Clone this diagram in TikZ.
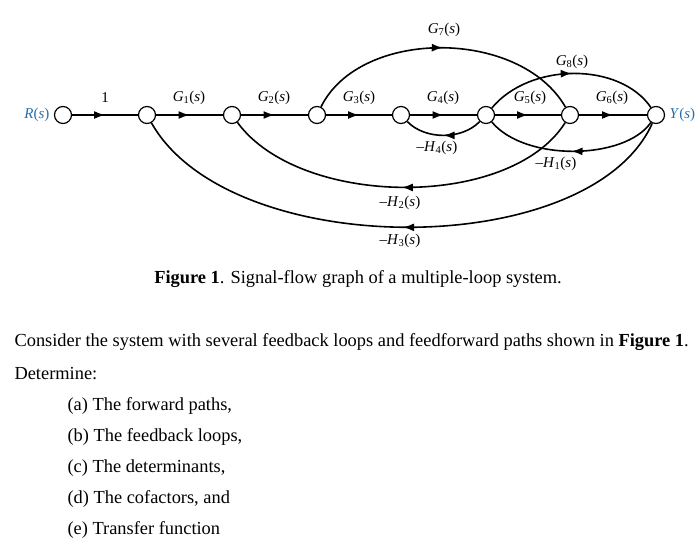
\documentclass[tikz,border=0pt]{standalone}
\usepackage{fontspec}
\setmainfont{Liberation Serif}
\usetikzlibrary{decorations.markings,arrows.meta,positioning}
\definecolor{sigblue}{RGB}{40,110,170}
\newcommand{\tf}[2]{\textit{#1}\textsubscript{#2}(\textit{s})}
\begin{document}
\begin{tikzpicture}[x=1pt,y=-1pt,
    nd/.style={circle,draw,line width=1.2pt,fill=white,minimum size=17pt,inner sep=0pt},
    br/.style={line width=1.6pt,postaction={decorate},
      decoration={markings,mark=at position 0.5 with {\arrow{Latex[length=11pt,width=8pt]}}}},
    lb/.style={font=\fontsize{15}{17}\selectfont},
    txt/.style={font=\fontsize{18.4}{21}\selectfont,anchor=west}
  ]
  \useasboundingbox (0,0) rectangle (700,553);
  % nodes
  \node[nd] (R) at (63,115) {};
  \node[nd] (n1) at (147,115) {};
  \node[nd] (n2) at (232,115) {};
  \node[nd] (n3) at (317,115) {};
  \node[nd] (n4) at (401,115) {};
  \node[nd] (n5) at (486,115) {};
  \node[nd] (n6) at (570,115) {};
  \node[nd] (Y) at (656,115) {};
  % branches
  \draw[br] (R) -- (n1);
  \draw[br] (n1) -- (n2);
  \draw[br] (n2) -- (n3);
  \draw[br] (n3) -- (n4);
  \draw[br] (n4) -- (n5);
  \draw[br] (n5) -- (n6);
  \draw[br] (n6) -- (Y);
  \draw[br] (n3) .. controls (360,28) and (520,28) .. (n6);
  \draw[br] (n5) .. controls (530,62) and (620,62) .. (Y);
  \draw[br] (n5) .. controls (462,140) and (425,140) .. (n4);
  \draw[br] (Y) .. controls (625,160) and (525,162) .. (n5);
  \draw[br] (n6) .. controls (510,210) and (300,208) .. (n2);
  \draw[br] (Y) .. controls (590,262) and (230,262) .. (n1);
  % labels
  \node[lb,text=sigblue,left=1pt of R] (lR) {\textit{R}(\textit{s})};
  \node[lb,text=sigblue,right=1pt of Y] (lY) {\textit{Y}(\textit{s})};
  \node[lb] (l1) at (105,98) {1};
  \node[lb] (g1) at (189,98) {\tf{G}{1}};
  \node[lb] (g2) at (274,98) {\tf{G}{2}};
  \node[lb] (g3) at (359,98) {\tf{G}{3}};
  \node[lb] (g4) at (443,98) {\tf{G}{4}};
  \node[lb] (g5) at (530,98) {\tf{G}{5}};
  \node[lb] (g6) at (612,98) {\tf{G}{6}};
  \node[lb] (g7) at (444,30) {\tf{G}{7}};
  \node[lb] (g8) at (572,62) {\tf{G}{8}};
  \node[lb] (h4) at (437,148) {\textendash\tf{H}{4}};
  \node[lb] (h1) at (556,164) {\textendash\tf{H}{1}};
  \node[lb] (h2) at (400,203) {\textendash\tf{H}{2}};
  \node[lb] (h3) at (400,241) {\textendash\tf{H}{3}};
  % text
  \node[font=\fontsize{18.4}{21}\selectfont] (cap) at (358,279) {\textbf{Figure 1}. Signal-flow graph of a multiple-loop system.};
  \node[txt] (p) at (11,342) {Consider the system with several feedback loops and feedforward paths shown in \textbf{Figure 1}.};
  \node[txt] (d) at (11,374) {Determine:};
  \node[txt] (a) at (64,406) {(a) The forward paths,};
  \node[txt] (b) at (64,437) {(b) The feedback loops,};
  \node[txt] (c) at (64,468) {(c) The determinants,};
  \node[txt] (e) at (64,499) {(d) The cofactors, and};
  \node[txt] (f) at (64,530) {(e) Transfer function};
\end{tikzpicture}
\end{document}
